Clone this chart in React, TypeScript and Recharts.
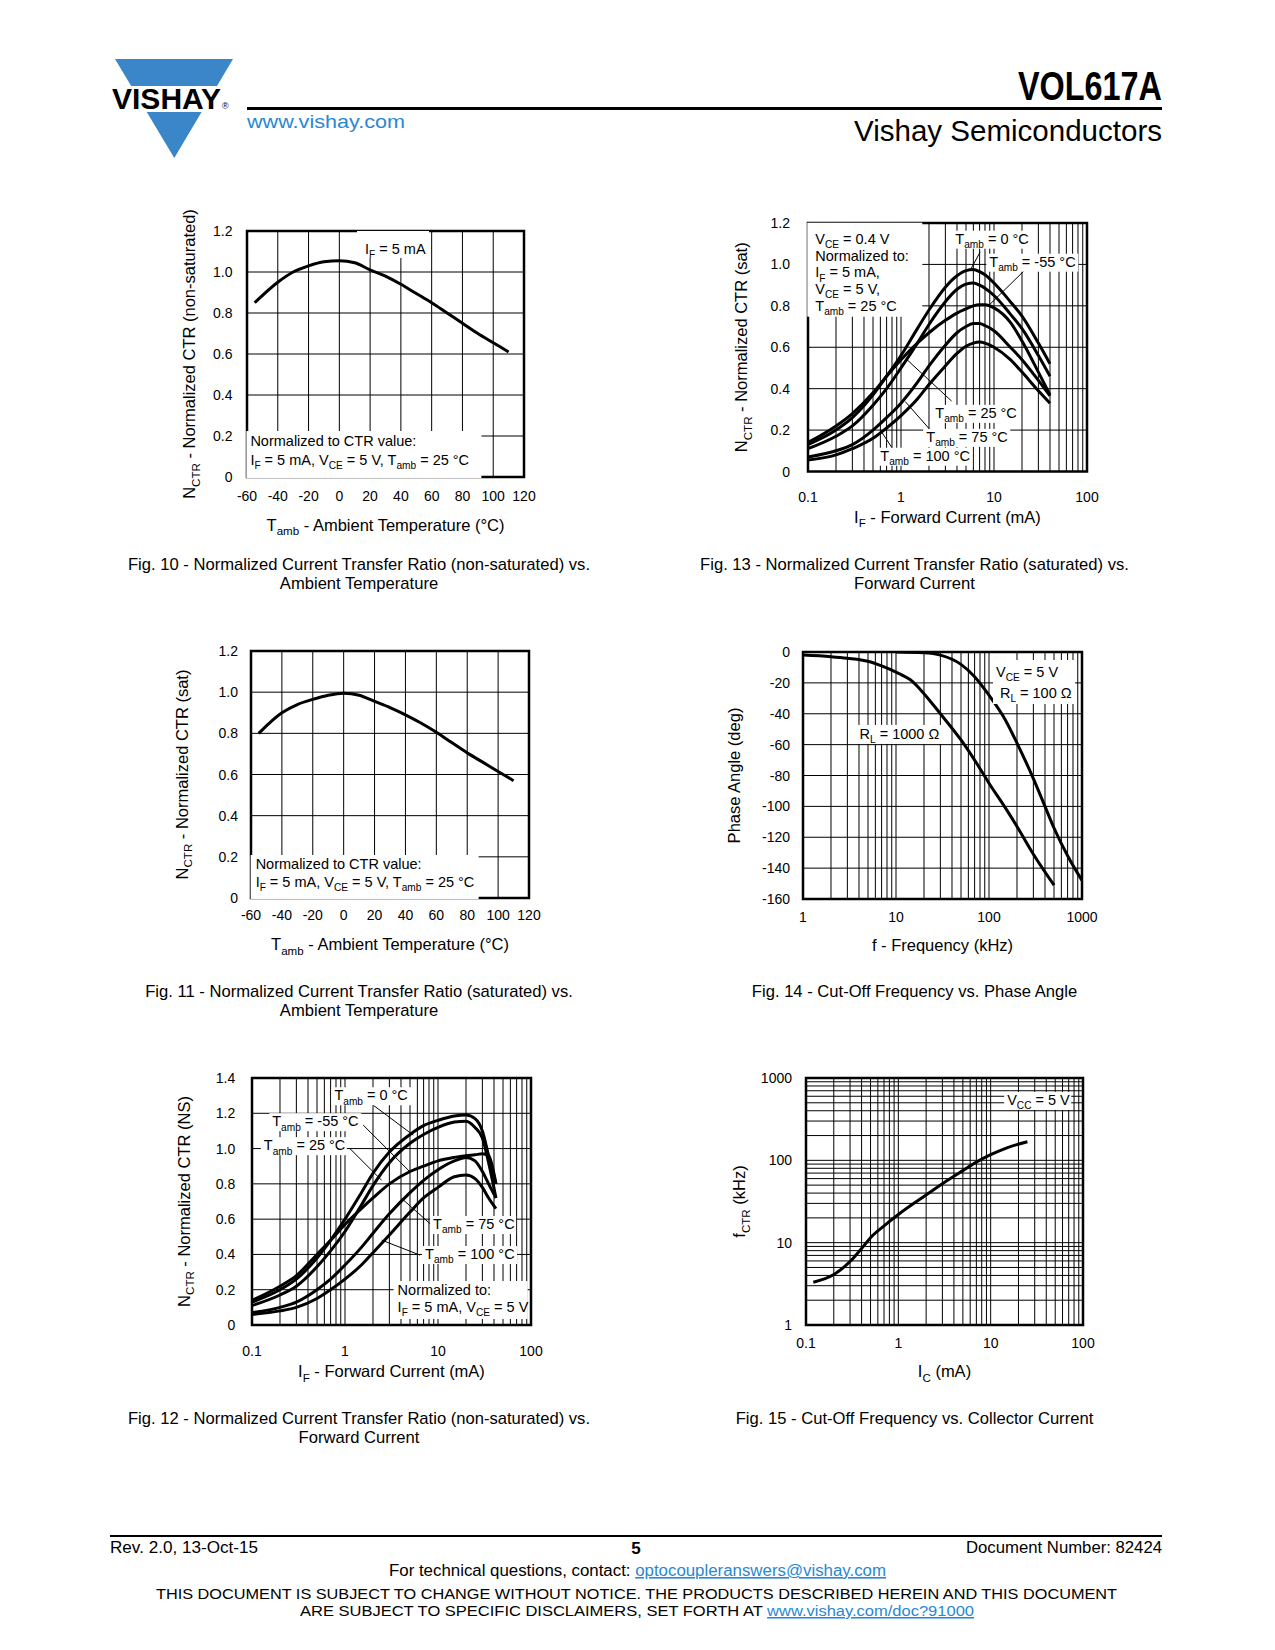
import React from 'react';
import {
  LineChart,
  Line,
  XAxis,
  YAxis,
  CartesianGrid,
  ReferenceArea,
  ReferenceLine,
  ReferenceDot,
} from 'recharts';

const FONT = '"Liberation Sans", Arial, Helvetica, sans-serif';
const LINK_BLUE = '#2a87d2';
const LOGO_BLUE = '#3b86c9';

// ---- tick sets ----
const tempTicks = [-60, -40, -20, 0, 20, 40, 60, 80, 100, 120];
const ctrTicks = [0, 0.2, 0.4, 0.6, 0.8, 1.0, 1.2];
const ctrTicksNS = [0, 0.2, 0.4, 0.6, 0.8, 1.0, 1.2, 1.4];
const currentTicks = [
  0.1, 0.2, 0.3, 0.4, 0.5, 0.6, 0.7, 0.8, 0.9,
  1, 2, 3, 4, 5, 6, 7, 8, 9,
  10, 20, 30, 40, 50, 60, 70, 80, 90, 100,
];
const currentLabels = [0.1, 1, 10, 100];
const freqTicks = [
  1, 2, 3, 4, 5, 6, 7, 8, 9,
  10, 20, 30, 40, 50, 60, 70, 80, 90,
  100, 200, 300, 400, 500, 600, 700, 800, 900, 1000,
];
const freqLabels = [1, 10, 100, 1000];
const phaseTicks = [-160, -140, -120, -100, -80, -60, -40, -20, 0];
const fctrTicks = freqTicks;
const fctrLabels = [1, 10, 100, 1000];

// ---- Fig. 10: NCTR (non-saturated) vs. Tamb ----
const fig10Temp = [-55, -40, -30, -20, -10, 0, 10, 20, 30, 40, 50, 60, 70, 80, 90, 100, 110];
const fig10Ctr = [0.85, 0.95, 1.0, 1.03, 1.05, 1.055, 1.045, 1.01, 0.98, 0.94, 0.895, 0.85, 0.8, 0.75, 0.7, 0.655, 0.61];

// ---- Fig. 11: NCTR (sat) vs. Tamb ----
const fig11Temp = [-55, -40, -30, -20, -10, 0, 10, 20, 30, 40, 50, 60, 70, 80, 90, 100, 110];
const fig11Ctr = [0.8, 0.9, 0.94, 0.965, 0.985, 0.995, 0.985, 0.955, 0.925, 0.89, 0.85, 0.805, 0.755, 0.705, 0.66, 0.615, 0.57];

// ---- Fig. 13: NCTR (sat) vs. IF ----
const fig13If = [0.1, 0.2, 0.3, 0.5, 0.7, 1, 1.5, 2, 3, 4, 5, 6, 7, 8, 10, 15, 20, 30, 40];
const fig13T0 = [0.13, 0.2, 0.26, 0.37, 0.46, 0.56, 0.69, 0.78, 0.89, 0.945, 0.97, 0.975, 0.965, 0.95, 0.91, 0.82, 0.75, 0.62, 0.52];
const fig13T25 = [0.11, 0.17, 0.22, 0.32, 0.4, 0.5, 0.62, 0.71, 0.82, 0.88, 0.905, 0.91, 0.9, 0.885, 0.85, 0.76, 0.69, 0.56, 0.46];
const fig13Tm55 = [0.14, 0.22, 0.28, 0.38, 0.46, 0.54, 0.62, 0.67, 0.73, 0.765, 0.785, 0.8, 0.805, 0.805, 0.79, 0.72, 0.63, 0.48, 0.37];
const fig13T75 = [0.07, 0.1, 0.13, 0.2, 0.26, 0.33, 0.43, 0.51, 0.61, 0.67, 0.7, 0.715, 0.715, 0.705, 0.68, 0.6, 0.54, 0.44, 0.365];
const fig13T100 = [0.055, 0.08, 0.11, 0.16, 0.21, 0.27, 0.35, 0.42, 0.51, 0.57, 0.605, 0.62, 0.625, 0.62, 0.6, 0.54, 0.48, 0.39, 0.33];

// ---- Fig. 14: phase angle vs. frequency ----
const fig14FreqR100 = [10, 20, 30, 50, 70, 100, 150, 200, 300, 400, 500, 700, 1000];
const fig14PhaseR100 = [0, -0.5, -2, -8, -16, -28, -44, -59, -82, -100, -114, -132, -148];
const fig14FreqR1000 = [1, 2, 3, 5, 7, 10, 15, 20, 30, 50, 70, 100, 150, 200, 300, 500];
const fig14PhaseR1000 = [-2, -3, -4, -6, -9, -13, -19, -27, -40, -57, -70, -85, -101, -113, -131, -151];

// ---- Fig. 12: NCTR (NS) vs. IF ----
const fig12If = [0.1, 0.2, 0.3, 0.5, 0.7, 1, 1.5, 2, 3, 5, 7, 10, 15, 20, 25, 30, 35, 42];
const fig12T0 = [0.13, 0.2, 0.26, 0.38, 0.48, 0.6, 0.75, 0.86, 0.98, 1.08, 1.13, 1.16, 1.185, 1.19, 1.17, 1.1, 0.96, 0.8];
const fig12T25 = [0.11, 0.17, 0.22, 0.33, 0.42, 0.53, 0.68, 0.79, 0.92, 1.03, 1.08, 1.12, 1.15, 1.155, 1.12, 1.06, 0.92, 0.72];
const fig12Tm55 = [0.14, 0.22, 0.28, 0.4, 0.48, 0.57, 0.66, 0.72, 0.8, 0.87, 0.9, 0.93, 0.95, 0.96, 0.965, 0.97, 0.96, 0.8];
const fig12T75 = [0.07, 0.1, 0.13, 0.2, 0.26, 0.34, 0.44, 0.52, 0.63, 0.75, 0.82, 0.88, 0.93, 0.95, 0.93, 0.87, 0.8, 0.72];
const fig12T100 = [0.06, 0.08, 0.1, 0.15, 0.2, 0.26, 0.34, 0.41, 0.51, 0.64, 0.72, 0.78, 0.84, 0.85, 0.83, 0.78, 0.72, 0.66];

// ---- Fig. 15: fCTR vs. IC ----
const fig15Ic = [0.12, 0.2, 0.3, 0.4, 0.5, 0.7, 1, 2, 3, 5, 7, 10, 15, 25];
const fig15Freq = [3.3, 4.1, 5.9, 8.5, 11.5, 16, 22, 38, 52, 75, 95, 117, 142, 168];

// ---- layout helpers ----
const PAD_L = 100;
const PAD_T = 60;
const PAD_R = 20;
const PAD_B = 80;
const TICK_SIZE = 14;
const TITLE_SIZE = 16.5;
const NOTE_SIZE = 14.5;

interface AxisCfg {
  domain: [number, number];
  ticks: number[];
  labels: number[];
  log?: boolean;
  fmt?: (v: number) => string;
  title: string;
}
interface Note {
  x: number;
  y: number;
  lines: string[];
  lineH?: number;
  box?: [number, number, number, number];
}
type Leader = [[number, number], [number, number]];
interface ChartProps {
  plot: { l: number; t: number; w: number; h: number };
  xAxis: AxisCfg;
  yAxis: AxisCfg;
  series: { x: number[]; y: number[] }[];
  notes?: Note[];
  leaders?: Leader[];
  xTickOff: number;
  yTickGap: number;
  xTitleOff: number;
  yTitleGap: number;
}

const ctrFmt = (v: number) => (v === 0 ? '0' : v.toFixed(1));
const has = (list: number[], v: number) =>
  list.some((l) => Math.abs(l - v) < 1e-9 * Math.max(1, Math.abs(l)));

// text with _{sub} markers -> tspans
function spans(text: string, size: number) {
  const out: React.ReactNode[] = [];
  const shift = size * 0.3;
  const re = /_\{([^}]*)\}/g;
  let last = 0;
  let down = false;
  let k = 0;
  let m: RegExpExecArray | null;
  while ((m = re.exec(text)) !== null) {
    if (m.index > last) {
      out.push(<tspan key={k++} dy={down ? -shift : 0}>{text.slice(last, m.index)}</tspan>);
      down = false;
    }
    out.push(
      <tspan key={k++} dy={down ? 0 : shift} fontSize={size * 0.7}>
        {m[1]}
      </tspan>
    );
    down = true;
    last = re.lastIndex;
  }
  if (last < text.length) {
    out.push(<tspan key={k++} dy={down ? -shift : 0}>{text.slice(last)}</tspan>);
  }
  return out;
}

function NoteShape({ cx, cy, note }: { cx: number; cy: number; note: Note }) {
  const lh = note.lineH ?? 17;
  return (
    <g>
      {note.box && (
        <rect
          x={cx + note.box[0]}
          y={cy + note.box[1]}
          width={note.box[2]}
          height={note.box[3]}
          fill="#fff"
        />
      )}
      {note.lines.map((ln, i) => (
        <text key={i} x={cx} y={cy + i * lh} fontSize={NOTE_SIZE} fontFamily={FONT} fill="#000">
          {spans(ln, NOTE_SIZE)}
        </text>
      ))}
    </g>
  );
}

function DatasheetChart(props: ChartProps) {
  const { plot, xAxis, yAxis, series, notes = [], leaders = [] } = props;
  const width = plot.w + PAD_L + PAD_R;
  const height = plot.h + PAD_T + PAD_B;
  const xFmt = xAxis.fmt ?? ((v: number) => String(v));
  const yFmt = yAxis.fmt ?? ((v: number) => String(v));

  const xTitle = (
    <text
      x={PAD_L + plot.w / 2}
      y={PAD_T + plot.h + props.xTitleOff}
      textAnchor="middle"
      fontSize={TITLE_SIZE}
      fontFamily={FONT}
      fill="#000"
    >
      {spans(xAxis.title, TITLE_SIZE)}
    </text>
  );
  const ycx = PAD_L - props.yTitleGap;
  const ycy = PAD_T + plot.h / 2;
  const yTitle = (
    <text
      x={ycx}
      y={ycy + 5.5}
      transform={`rotate(-90 ${ycx} ${ycy})`}
      textAnchor="middle"
      fontSize={TITLE_SIZE}
      fontFamily={FONT}
      fill="#000"
    >
      {spans(yAxis.title, TITLE_SIZE)}
    </text>
  );

  return (
    <div style={{ position: 'absolute', left: plot.l - PAD_L, top: plot.t - PAD_T }}>
      <LineChart width={width} height={height} margin={{ top: PAD_T, right: PAD_R, bottom: 0, left: 0 }}>
        <CartesianGrid stroke="#000" strokeWidth={1} />
        <XAxis
          dataKey="x"
          type="number"
          scale={xAxis.log ? 'log' : 'linear'}
          domain={xAxis.domain}
          ticks={xAxis.ticks}
          interval={0}
          allowDataOverflow
          axisLine={false}
          tickLine={false}
          tickSize={0}
          tickMargin={0}
          height={PAD_B}
          tick={(p: any) =>
            has(xAxis.labels, p.payload.value) ? (
              <text
                x={p.x}
                y={p.y + props.xTickOff}
                textAnchor="middle"
                fontSize={TICK_SIZE}
                fontFamily={FONT}
                fill="#000"
              >
                {xFmt(p.payload.value)}
              </text>
            ) : (
              <g />
            )
          }
          label={() => xTitle}
        />
        <YAxis
          type="number"
          scale={yAxis.log ? 'log' : 'linear'}
          domain={yAxis.domain}
          ticks={yAxis.ticks}
          interval={0}
          allowDataOverflow
          axisLine={false}
          tickLine={false}
          tickSize={0}
          tickMargin={0}
          width={PAD_L}
          tick={(p: any) =>
            has(yAxis.labels, p.payload.value) ? (
              <text
                x={p.x - props.yTickGap}
                y={p.y + 5}
                textAnchor="end"
                fontSize={TICK_SIZE}
                fontFamily={FONT}
                fill="#000"
              >
                {yFmt(p.payload.value)}
              </text>
            ) : (
              <g />
            )
          }
          label={() => yTitle}
        />
        {notes.map((n, i) => (
          <ReferenceDot
            key={`n${i}`}
            x={n.x}
            y={n.y}
            r={0}
            ifOverflow="visible"
            shape={(p: any) => <NoteShape cx={p.cx} cy={p.cy} note={n} />}
          />
        ))}
        {leaders.map((ld, i) => (
          <ReferenceLine
            key={`l${i}`}
            segment={[
              { x: ld[0][0], y: ld[0][1] },
              { x: ld[1][0], y: ld[1][1] },
            ]}
            stroke="#000"
            strokeWidth={1}
            ifOverflow="visible"
          />
        ))}
        {series.map((s, i) => (
          <Line
            key={i}
            data={s.x.map((x, j) => ({ x, y: s.y[j] }))}
            dataKey="y"
            type="monotone"
            stroke="#000"
            strokeWidth={3}
            dot={false}
            activeDot={false}
            isAnimationActive={false}
          />
        ))}
        <ReferenceArea
          x1={xAxis.domain[0]}
          x2={xAxis.domain[1]}
          y1={yAxis.domain[0]}
          y2={yAxis.domain[1]}
          fill="none"
          fillOpacity={0}
          stroke="#000"
          strokeWidth={2.5}
          ifOverflow="visible"
        />
      </LineChart>
    </div>
  );
}

const captions = [
  { x: 359, y: 570, lines: ['Fig. 10 - Normalized Current Transfer Ratio (non-saturated) vs.', 'Ambient Temperature'] },
  { x: 914.5, y: 570, lines: ['Fig. 13 - Normalized Current Transfer Ratio (saturated) vs.', 'Forward Current'] },
  { x: 359, y: 997, lines: ['Fig. 11 - Normalized Current Transfer Ratio (saturated) vs.', 'Ambient Temperature'] },
  { x: 914.5, y: 997, lines: ['Fig. 14 - Cut-Off Frequency vs. Phase Angle'] },
  { x: 359, y: 1424, lines: ['Fig. 12 - Normalized Current Transfer Ratio (non-saturated) vs.', 'Forward Current'] },
  { x: 914.5, y: 1424, lines: ['Fig. 15 - Cut-Off Frequency vs. Collector Current'] },
];

function PageText() {
  return (
    <svg width={1275} height={1650} style={{ position: 'absolute', left: 0, top: 0 }} fontFamily={FONT}>
      {/* logo */}
      <polygon points="115,59 233,59 174.3,158" fill={LOGO_BLUE} />
      <rect x={105} y={86} width={135} height={26} fill="#fff" />
      <text x={112} y={109} fontSize={30} fontWeight={700} textLength={109} lengthAdjust="spacingAndGlyphs" fill="#000">
        VISHAY
      </text>
      <text x={222} y={109} fontSize={9} fill="#000">®</text>

      {/* header */}
      <text x={1162} y={100} textAnchor="end" fontSize={40} fontWeight={700} textLength={144} lengthAdjust="spacingAndGlyphs" fill="#000">
        VOL617A
      </text>
      <line x1={247} x2={1162} y1={108.5} y2={108.5} stroke="#000" strokeWidth={3} />
      <text x={247} y={128} fontSize={19} textLength={158} lengthAdjust="spacingAndGlyphs" fill={LINK_BLUE}>
        www.vishay.com
      </text>
      <text x={1162} y={141} textAnchor="end" fontSize={30} textLength={308} lengthAdjust="spacingAndGlyphs" fill="#000">
        Vishay Semiconductors
      </text>

      {/* captions */}
      {captions.map((c, i) =>
        c.lines.map((ln, j) => (
          <text key={`${i}-${j}`} x={c.x} y={c.y + j * 19} textAnchor="middle" fontSize={16.6} fill="#000">
            {ln}
          </text>
        ))
      )}

      {/* footer */}
      <line x1={110} x2={1162} y1={1536} y2={1536} stroke="#000" strokeWidth={2} />
      <text x={110} y={1553} fontSize={16} textLength={148} lengthAdjust="spacingAndGlyphs" fill="#000">
        Rev. 2.0, 13-Oct-15
      </text>
      <text x={636} y={1554} textAnchor="middle" fontSize={17} fontWeight={700} fill="#000">5</text>
      <text x={1162} y={1553} textAnchor="end" fontSize={16} textLength={196} lengthAdjust="spacingAndGlyphs" fill="#000">
        Document Number: 82424
      </text>
      <text x={389} y={1576} fontSize={16} textLength={497} lengthAdjust="spacingAndGlyphs" fill="#000">
        For technical questions, contact:{' '}
        <tspan fill={LINK_BLUE} style={{ textDecoration: 'underline' }}>optocoupleranswers@vishay.com</tspan>
      </text>
      <text x={156} y={1599} fontSize={15.5} textLength={961} lengthAdjust="spacingAndGlyphs" fill="#000">
        THIS DOCUMENT IS SUBJECT TO CHANGE WITHOUT NOTICE. THE PRODUCTS DESCRIBED HEREIN AND THIS DOCUMENT
      </text>
      <text x={300} y={1616} fontSize={15.5} textLength={674} lengthAdjust="spacingAndGlyphs" fill="#000">
        ARE SUBJECT TO SPECIFIC DISCLAIMERS, SET FORTH AT{' '}
        <tspan fill={LINK_BLUE} style={{ textDecoration: 'underline' }}>www.vishay.com/doc?91000</tspan>
      </text>
    </svg>
  );
}

const normLines = ['Normalized to CTR value:', 'I_{F} = 5 mA, V_{CE} = 5 V, T_{amb} = 25 °C'];

export default function App() {
  return (
    <div
      style={{
        position: 'absolute',
        left: 0,
        top: 0,
        width: 1275,
        height: 1650,
        background: '#fff',
        fontFamily: FONT,
      }}
    >
      <PageText />

      {/* Fig. 10 */}
      <DatasheetChart
        plot={{ l: 247, t: 231, w: 277, h: 246 }}
        xAxis={{ domain: [-60, 120], ticks: tempTicks, labels: tempTicks, title: 'T_{amb} - Ambient Temperature (°C)' }}
        yAxis={{ domain: [0, 1.2], ticks: ctrTicks, labels: ctrTicks, fmt: ctrFmt, title: 'N_{CTR} - Normalized CTR (non-saturated)' }}
        series={[{ x: fig10Temp, y: fig10Ctr }]}
        notes={[
          { x: 16.7, y: 1.088, lines: ['I_{F} = 5 mA'], box: [-8, -23, 72, 27] },
          { x: -57.8, y: 0.151, lines: normLines, lineH: 18.5, box: [-4, -15, 235, 47] },
        ]}
        xTickOff={23.5}
        yTickGap={14.5}
        xTitleOff={53.5}
        yTitleGap={57.6}
      />

      {/* Fig. 13 */}
      <DatasheetChart
        plot={{ l: 808, t: 223, w: 279, h: 248.5 }}
        xAxis={{ domain: [0.1, 100], ticks: currentTicks, labels: currentLabels, log: true, title: 'I_{F} - Forward Current (mA)' }}
        yAxis={{ domain: [0, 1.2], ticks: ctrTicks, labels: ctrTicks, fmt: ctrFmt, title: 'N_{CTR} - Normalized CTR (sat)' }}
        series={[
          { x: fig13If, y: fig13T0 },
          { x: fig13If, y: fig13T25 },
          { x: fig13If, y: fig13Tm55 },
          { x: fig13If, y: fig13T75 },
          { x: fig13If, y: fig13T100 },
        ]}
        notes={[
          {
            x: 0.1198,
            y: 1.1,
            lines: ['V_{CE} = 0.4 V', 'Normalized to:', 'I_{F} = 5 mA,', 'V_{CE} = 5 V,', 'T_{amb} = 25 °C'],
            lineH: 16.8,
            box: [-8, -21, 115, 94],
          },
          { x: 3.84, y: 1.1, lines: ['T_{amb} = 0 °C'], box: [-3, -13, 80, 18] },
          { x: 8.9, y: 0.989, lines: ['T_{amb} = -55 °C'], box: [-3, -13, 92, 18] },
          { x: 2.34, y: 0.259, lines: ['T_{amb} = 25 °C'], box: [-3, -13, 87, 18] },
          { x: 1.87, y: 0.143, lines: ['T_{amb} = 75 °C'], box: [-3, -13, 87, 18] },
          { x: 0.6, y: 0.052, lines: ['T_{amb} = 100 °C'], box: [-3, -13, 95, 18] },
        ]}
        leaders={[
          [[7.1, 1.06], [5.6, 0.975]],
          [[21.7, 0.975], [8.7, 0.8]],
          [[3.5, 0.34], [1.16, 0.54]],
          [[2.07, 0.2], [1.11, 0.338]],
          [[0.87, 0.09], [0.6, 0.2]],
        ]}
        xTickOff={30}
        yTickGap={18}
        xTitleOff={51}
        yTitleGap={66.3}
      />

      {/* Fig. 11 */}
      <DatasheetChart
        plot={{ l: 251, t: 651, w: 278, h: 247 }}
        xAxis={{ domain: [-60, 120], ticks: tempTicks, labels: tempTicks, title: 'T_{amb} - Ambient Temperature (°C)' }}
        yAxis={{ domain: [0, 1.2], ticks: ctrTicks, labels: ctrTicks, fmt: ctrFmt, title: 'N_{CTR} - Normalized CTR (sat)' }}
        series={[{ x: fig11Temp, y: fig11Ctr }]}
        notes={[{ x: -57, y: 0.141, lines: normLines, lineH: 18, box: [-5, -14, 228, 44] }]}
        xTickOff={22}
        yTickGap={13}
        xTitleOff={52}
        yTitleGap={69}
      />

      {/* Fig. 14 */}
      <DatasheetChart
        plot={{ l: 803, t: 652, w: 279, h: 247 }}
        xAxis={{ domain: [1, 1000], ticks: freqTicks, labels: freqLabels, log: true, title: 'f - Frequency (kHz)' }}
        yAxis={{ domain: [-160, 0], ticks: phaseTicks, labels: phaseTicks, title: 'Phase Angle (deg)' }}
        series={[
          { x: fig14FreqR100, y: fig14PhaseR100 },
          { x: fig14FreqR1000, y: fig14PhaseR1000 },
        ]}
        notes={[
          { x: 119, y: -16.2, lines: ['V_{CE} = 5 V'], box: [-3, -17, 82, 44] },
          { x: 131, y: -29.8, lines: ['R_{L} = 100 Ω'] },
          { x: 4.05, y: -56.3, lines: ['R_{L} = 1000 Ω'], box: [-4, -14, 86, 19] },
        ]}
        xTickOff={23}
        yTickGap={13}
        xTitleOff={52}
        yTitleGap={68.7}
      />

      {/* Fig. 12 */}
      <DatasheetChart
        plot={{ l: 252, t: 1078, w: 279, h: 247 }}
        xAxis={{ domain: [0.1, 100], ticks: currentTicks, labels: currentLabels, log: true, title: 'I_{F} - Forward Current (mA)' }}
        yAxis={{ domain: [0, 1.4], ticks: ctrTicksNS, labels: ctrTicksNS, fmt: ctrFmt, title: 'N_{CTR} - Normalized CTR (NS)' }}
        series={[
          { x: fig12If, y: fig12T0 },
          { x: fig12If, y: fig12T25 },
          { x: fig12If, y: fig12Tm55 },
          { x: fig12If, y: fig12T75 },
          { x: fig12If, y: fig12T100 },
        ]}
        notes={[
          { x: 0.769, y: 1.274, lines: ['T_{amb} = 0 °C'], box: [-3, -13, 80, 18] },
          { x: 0.165, y: 1.127, lines: ['T_{amb} = -55 °C'], box: [-3, -13, 92, 18] },
          { x: 0.134, y: 0.991, lines: ['T_{amb} = 25 °C'], box: [-3, -13, 86, 18] },
          { x: 8.86, y: 0.544, lines: ['T_{amb} = 75 °C'], box: [-3, -13, 86, 18] },
          { x: 7.26, y: 0.374, lines: ['T_{amb} = 100 °C'], box: [-3, -13, 95, 18] },
          { x: 3.68, y: 0.17, lines: ['Normalized to:', 'I_{F} = 5 mA, V_{CE} = 5 V'], lineH: 16.5, box: [-4, -14, 134, 38] },
        ]}
        leaders={[
          [[2.01, 1.246], [5.43, 1.076]],
          [[1.57, 1.133], [5.0, 0.868]],
          [[1.13, 1.0], [2.48, 0.82]],
          [[8.57, 0.566], [4.07, 0.717]],
          [[6.41, 0.396], [2.48, 0.481]],
        ]}
        xTickOff={31}
        yTickGap={16.7}
        xTitleOff={52}
        yTitleGap={68}
      />

      {/* Fig. 15 */}
      <DatasheetChart
        plot={{ l: 806, t: 1078, w: 277, h: 247 }}
        xAxis={{ domain: [0.1, 100], ticks: currentTicks, labels: currentLabels, log: true, title: 'I_{C} (mA)' }}
        yAxis={{ domain: [1, 1000], ticks: fctrTicks, labels: fctrLabels, log: true, title: 'f_{CTR} (kHz)' }}
        series={[{ x: fig15Ic, y: fig15Freq }]}
        notes={[{ x: 15.1, y: 471, lines: ['V_{CC} = 5 V'], box: [-3, -13, 67, 18] }]}
        xTickOff={23}
        yTickGap={14}
        xTitleOff={52}
        yTitleGap={66.4}
      />
    </div>
  );
}
